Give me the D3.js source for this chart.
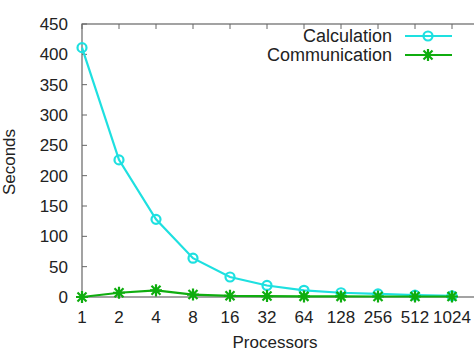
<!DOCTYPE html>
<html>
<head>
<meta charset="utf-8">
<script src="https://cdn.jsdelivr.net/npm/d3@7"></script>
<style>
  body { margin: 0; background: #fff; }
  text { font-family: "Liberation Sans", Arial, sans-serif; fill: #222; }
</style>
</head>
<body>
<div id="content"></div>
<script>
// ======= data =======
var processors = [1, 2, 4, 8, 16, 32, 64, 128, 256, 512, 1024];
var calculation = [411, 226, 128, 64, 33, 19, 11, 7, 5, 3, 2];
var communication = [0, 7, 11, 4, 2, 1.5, 1, 1, 0.8, 0.8, 0.8];
var yTicks = [0, 50, 100, 150, 200, 250, 300, 350, 400, 450];
var seriesNames = ["Calculation", "Communication"];

// ======= formatting =======
var width = 474, height = 352;
var colors = ["#1ee0e0", "#0fad0f"];
var frameColor = "#666";

var svg = d3.select("#content").append("svg")
    .attr("width", width)
    .attr("height", height);

// ======= scales =======
var xScale = d3.scaleLog().base(2)
    .domain([1, 2048])
    .range([82, 489]);
var yScale = d3.scaleLinear()
    .domain([0, 450])
    .range([297, 24]);

// ======= frame =======
svg.append("rect")
    .attr("x", xScale(1))
    .attr("y", yScale(450))
    .attr("width", xScale(2048) - xScale(1))
    .attr("height", yScale(0) - yScale(450))
    .attr("fill", "none")
    .attr("stroke", frameColor)
    .attr("stroke-width", 1.2);

// ======= ticks =======
var tickLen = 5;
processors.forEach(function(p) {
    var x = xScale(p);
    svg.append("line").attr("x1", x).attr("x2", x)
        .attr("y1", yScale(0)).attr("y2", yScale(0) - tickLen)
        .attr("stroke", frameColor);
    svg.append("line").attr("x1", x).attr("x2", x)
        .attr("y1", yScale(450)).attr("y2", yScale(450) + tickLen)
        .attr("stroke", frameColor);
    svg.append("text")
        .attr("x", x)
        .attr("y", 323)
        .attr("text-anchor", "middle")
        .style("font-size", "17px")
        .text(p);
});
yTicks.forEach(function(v) {
    var y = yScale(v);
    svg.append("line").attr("x1", xScale(1)).attr("x2", xScale(1) + tickLen)
        .attr("y1", y).attr("y2", y)
        .attr("stroke", frameColor);
    svg.append("line").attr("x1", xScale(2048)).attr("x2", xScale(2048) - tickLen)
        .attr("y1", y).attr("y2", y)
        .attr("stroke", frameColor);
    svg.append("text")
        .attr("x", 68)
        .attr("y", y + 6)
        .attr("text-anchor", "end")
        .style("font-size", "17px")
        .text(v);
});

// ======= axis labels =======
svg.append("text")
    .attr("x", 275)
    .attr("y", 348)
    .attr("text-anchor", "middle")
    .style("font-size", "17px")
    .text("Processors");
svg.append("text")
    .attr("transform", "translate(15,162) rotate(-90)")
    .attr("text-anchor", "middle")
    .style("font-size", "17px")
    .text("Seconds");

// ======= markers =======
function drawCircle(g, x, y, color) {
    g.append("circle")
        .attr("cx", x).attr("cy", y).attr("r", 4.5)
        .attr("fill", "none")
        .attr("stroke", color)
        .attr("stroke-width", 2.2);
}
function drawStar(g, x, y, color) {
    var s = 6, d = 4.5;
    var path = "M" + (x - s) + "," + y + "H" + (x + s) +
        "M" + x + "," + (y - s) + "V" + (y + s) +
        "M" + (x - d) + "," + (y - d) + "L" + (x + d) + "," + (y + d) +
        "M" + (x - d) + "," + (y + d) + "L" + (x + d) + "," + (y - d);
    g.append("path")
        .attr("d", path)
        .attr("stroke", color)
        .attr("stroke-width", 2.2);
}

// ======= lines =======
var line = d3.line()
    .x(function(d, i) { return xScale(processors[i]); })
    .y(function(d) { return yScale(d); });

var seriesData = [calculation, communication];
var markerFns = [drawCircle, drawStar];

seriesData.forEach(function(values, s) {
    var g = svg.append("g");
    g.append("path")
        .datum(values)
        .attr("d", line)
        .attr("fill", "none")
        .attr("stroke", colors[s])
        .attr("stroke-width", 2.2);
    values.forEach(function(v, i) {
        markerFns[s](g, xScale(processors[i]), yScale(v), colors[s]);
    });
});

// ======= legend =======
seriesNames.forEach(function(name, s) {
    var y = 36 + s * 19;
    svg.append("text")
        .attr("x", 392)
        .attr("y", y + 6)
        .attr("text-anchor", "end")
        .style("font-size", "18px")
        .text(name);
    svg.append("line")
        .attr("x1", 405).attr("x2", 452)
        .attr("y1", y).attr("y2", y)
        .attr("stroke", colors[s])
        .attr("stroke-width", 2.2);
    markerFns[s](svg, 428, y, colors[s]);
});
</script>
</body>
</html>
